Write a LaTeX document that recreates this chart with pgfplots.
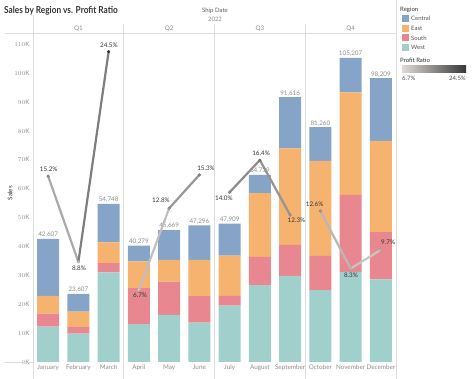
\documentclass[border=0pt]{standalone}
\usepackage{pgfplots}
\pgfplotsset{compat=1.18}
\usepackage{fontspec}
\setmainfont{Lato}
\definecolor{cCentral}{HTML}{86A4C8}
\definecolor{cEast}{HTML}{F6B26F}
\definecolor{cSouth}{HTML}{E8878F}
\definecolor{cWest}{HTML}{A0CFCC}
\definecolor{txt}{HTML}{333333}
\definecolor{tickc}{HTML}{8C8C8C}
\definecolor{rulec}{HTML}{DCDCDC}
\definecolor{lightc}{HTML}{DEDAD6}
\definecolor{darkc}{HTML}{373737}
\newcommand{\sm}{\fontsize{6.3}{7}\selectfont}
\begin{document}
\begin{tikzpicture}
\useasboundingbox (0,0) rectangle (474pt,379pt);
\begin{axis}[
  at={(33pt,17pt)}, anchor=south west, scale only axis,
  width=363pt, height=328pt,
  xmin=-0.5, xmax=11.5, ymin=0, ymax=113.5,
  ybar stacked, bar width=0.73,
  axis line style={draw=none}, tick style={draw=none},
  ytick={0,10,...,110},
  yticklabel={\pgfmathprintnumber{\tick}K},
  yticklabel style={font=\sm, color=tickc},
  xtick={0,...,11},
  xticklabels={January,February,March,April,May,June,July,August,September,October,November,December},
  xticklabel style={font=\sm, color=tickc, yshift=1pt},
]
\addplot[fill=cWest, draw=none] coordinates {(0,12.2)(1,9.8)(2,31.0)(3,13.1)(4,16.3)(5,13.6)(6,19.5)(7,26.6)(8,29.8)(9,24.9)(10,31.2)(11,28.6)};
\addplot[fill=cSouth, draw=none] coordinates {(0,4.5)(1,2.3)(2,3.2)(3,12.5)(4,11.5)(5,9.2)(6,3.4)(7,9.8)(8,10.7)(9,11.8)(10,26.6)(11,16.3)};
\addplot[fill=cEast, draw=none] coordinates {(0,6.2)(1,5.3)(2,7.2)(3,9.2)(4,7.5)(5,12.5)(6,13.9)(7,22.0)(8,33.4)(9,32.9)(10,35.5)(11,31.6)};
\addplot[fill=cCentral, draw=none] coordinates {(0,19.707)(1,6.207)(2,13.348)(3,5.479)(4,10.369)(5,11.996)(6,11.109)(7,6.339)(8,17.716)(9,11.66)(10,11.907)(11,21.709)};
\foreach \x/\t/\l in {0/42.607/42{,}607, 1/23.607/23{,}607, 2/54.748/54{,}748, 3/40.279/40{,}279, 4/45.669/45{,}669, 5/47.296/47{,}296, 6/47.909/47{,}909, 7/64.739/64{,}739, 8/91.616/91{,}616, 9/81.26/81{,}260, 10/105.207/105{,}207, 11/98.209/98{,}209}{
  \edef\tmp{\noexpand\node[anchor=south, font=\noexpand\sm, text=tickc, inner sep=1pt] at (axis cs:\x,\t) {\l};}\tmp
}
\end{axis}
\begin{axis}[
  at={(33pt,17pt)}, anchor=south west, scale only axis,
  width=363pt, height=328pt,
  xmin=-0.5, xmax=11.5, ymin=1.32, ymax=25.82,
  axis lines=none,
  colormap={pr}{rgb255=(222,218,214) rgb255=(55,55,55)},
  point meta min=6.7, point meta max=24.5,
]
\addplot[mesh, shader=interp, line width=2.2pt, point meta=y] coordinates {(0,15.2)(1,8.8)(2,24.5)};
\addplot[mesh, shader=interp, line width=2.2pt, point meta=y] coordinates {(3,6.7)(4,12.8)(5,15.3)};
\addplot[mesh, shader=interp, line width=2.2pt, point meta=y] coordinates {(6,14.0)(7,16.4)(8,12.3)};
\addplot[mesh, shader=interp, line width=2.2pt, point meta=y] coordinates {(9,12.6)(10,8.3)(11,9.7)};
\addplot[scatter, only marks, mark=*, mark size=1.4pt, point meta=y] coordinates {(0,15.2)(1,8.8)(2,24.5)(3,6.7)(4,12.8)(5,15.3)(6,14.0)(7,16.4)(8,12.3)(9,12.6)(10,8.3)(11,9.7)};
\foreach \x/\y/\l in {0.02/15.74/15.2, 1.02/8.29/8.8, 2.01/25.0/24.5, 3.04/6.30/6.7, 3.73/13.37/12.8, 5.22/15.76/15.3, 5.81/13.55/14.0, 7.04/16.93/16.4, 8.21/11.91/12.3, 8.81/13.14/12.6, 10.01/7.82/8.3, 11.24/10.28/9.7}{
  \edef\tmp{\noexpand\node[font=\noexpand\sm, text=txt, inner sep=0pt] at (axis cs:\x,\y) {\l\noexpand\%};}\tmp
}
\end{axis}
% frame lines
\draw[rulec, line width=0.6pt] (5pt,345.5pt) -- (396pt,345.5pt);
\draw[rulec, line width=0.6pt] (5pt,17pt) -- (33pt,17pt);
\draw[rulec, line width=0.6pt] (33pt,0pt) -- (33pt,364pt);
\foreach \xx in {123.75,214.5,305.25}{\draw[rulec, line width=0.6pt] (\xx pt,0pt) -- (\xx pt,355pt);}
\draw[rulec, line width=0.6pt] (396pt,0pt) -- (396pt,379pt);
% titles
\node[anchor=west, text=txt, inner sep=0pt] at (4pt,368.5pt) {\scalebox{0.86}[1]{\bfseries\fontsize{9.6}{11}\selectfont Sales by Region vs. Profit Ratio}};
\node[font=\fontsize{6}{7}\selectfont, text=txt!80, inner sep=0pt] at (215pt,368.5pt) {Ship Date};
\node[font=\fontsize{6}{7}\selectfont, text=tickc, inner sep=0pt] at (215pt,359.5pt) {2022};
\foreach \xx/\q in {78.4/Q1,169.1/Q2,259.9/Q3,350.6/Q4}{\node[font=\sm, text=tickc, inner sep=0pt] at (\xx pt,350pt) {\q};}
\node[rotate=90, font=\sm, text=txt, inner sep=0pt] at (10pt,186pt) {Sales};
% legend
\node[anchor=west, font=\fontsize{6}{7}\selectfont, text=txt, inner sep=0pt] at (400pt,369.5pt) {Region};
\foreach \yy/\c/\n in {360.3/cCentral/Central, 350.3/cEast/East, 341/cSouth/South, 331.7/cWest/West}{
  \fill[\c] (402pt,\yy pt-3.5pt) rectangle (409pt,\yy pt+3.5pt);
  \node[anchor=west, font=\fontsize{6}{7}\selectfont, text=txt!85, inner sep=0pt] at (411pt,\yy pt) {\n};
}
\node[anchor=west, font=\fontsize{6}{7}\selectfont, text=txt, inner sep=0pt] at (400pt,318.3pt) {Profit Ratio};
\shade[left color=lightc, right color=darkc] (402pt,306.3pt) rectangle (466pt,313pt);
\node[anchor=west, font=\fontsize{6}{7}\selectfont, text=txt!85, inner sep=0pt] at (402pt,300.3pt) {6.7\%};
\node[anchor=east, font=\fontsize{6}{7}\selectfont, text=txt!85, inner sep=0pt] at (466pt,300.3pt) {24.5\%};
\end{tikzpicture}
\end{document}
